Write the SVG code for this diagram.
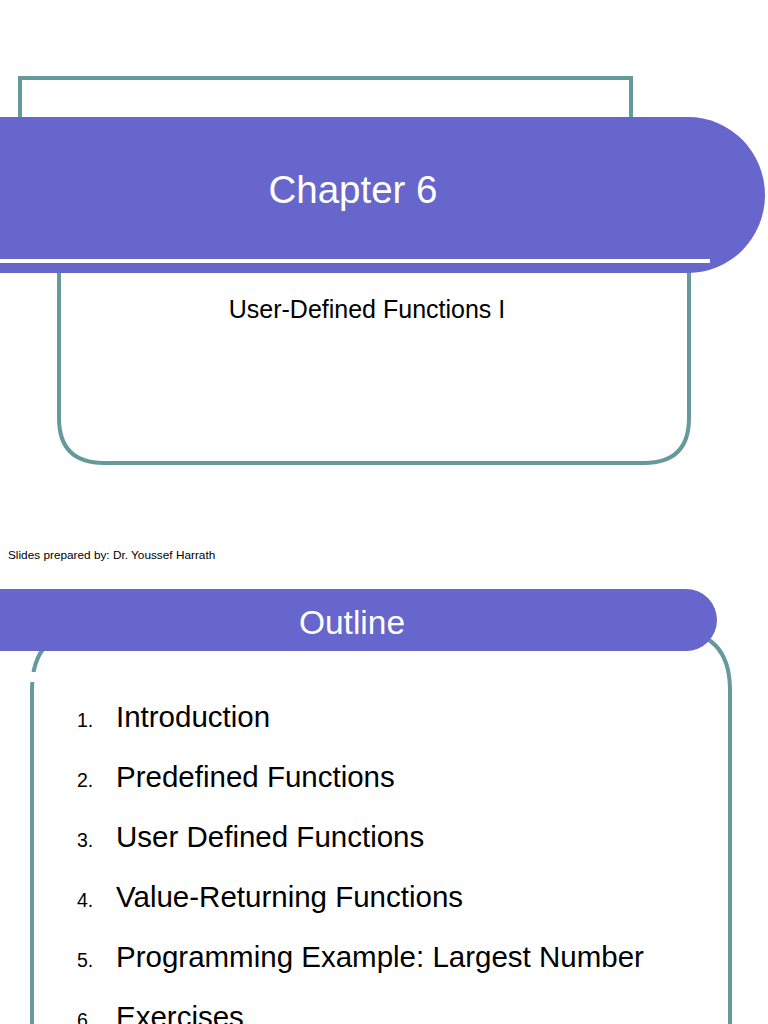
<svg xmlns="http://www.w3.org/2000/svg" width="768" height="1024" viewBox="0 0 768 1024">
<style>
.teal{fill:none;stroke:#669999;stroke-width:4}
.band{fill:#6666cc}
.w{fill:#ffffff;font-family:"Liberation Sans",Arial,sans-serif}
.b{fill:#000000;font-family:"Liberation Sans",Arial,sans-serif}
</style>
<rect width="768" height="1024" fill="#ffffff"/>
<g id="slide1">
<path class="teal" d="M20,118 V78 H631 V118"/>
<path class="teal" d="M59,272 V418 Q59,463 104,463 H644 Q689,463 689,418 V272"/>
<path class="band" d="M0,117 H688 A77,78 0 0 1 688,273 H0 Z"/>
<rect x="0" y="259" width="710" height="4" fill="#ffffff"/>
<text class="w" x="353" y="203" font-size="38.5" text-anchor="middle">Chapter 6</text>
<text class="b" x="367" y="318" font-size="25" text-anchor="middle">User-Defined Functions I</text>
<text class="b" x="8" y="559" font-size="11.8">Slides prepared by: Dr. Youssef Harrath</text>
</g>
<g id="slide2">
<path class="teal" d="M32,1030 V690 Q32,630 90,630 H670 Q730,630 730,690 V1030"/>
<rect x="28" y="672" width="8" height="10" fill="#ffffff"/>
<path class="band" d="M0,589 H686 A31,31 0 0 1 686,651 H0 Z"/>
<text class="w" x="352" y="634" font-size="33.5" text-anchor="middle">Outline</text>
<g class="b" font-size="19.5">
<text x="77" y="727">1.</text>
<text x="77" y="787">2.</text>
<text x="77" y="847">3.</text>
<text x="77" y="907">4.</text>
<text x="77" y="967">5.</text>
<text x="77" y="1027">6.</text>
</g>
<g class="b" font-size="29.5">
<text x="116" y="727">Introduction</text>
<text x="116" y="787">Predefined Functions</text>
<text x="116" y="847">User Defined Functions</text>
<text x="116" y="907">Value-Returning Functions</text>
<text x="116" y="967">Programming Example: Largest Number</text>
<text x="116" y="1027">Exercises</text>
</g>
</g>
</svg>
